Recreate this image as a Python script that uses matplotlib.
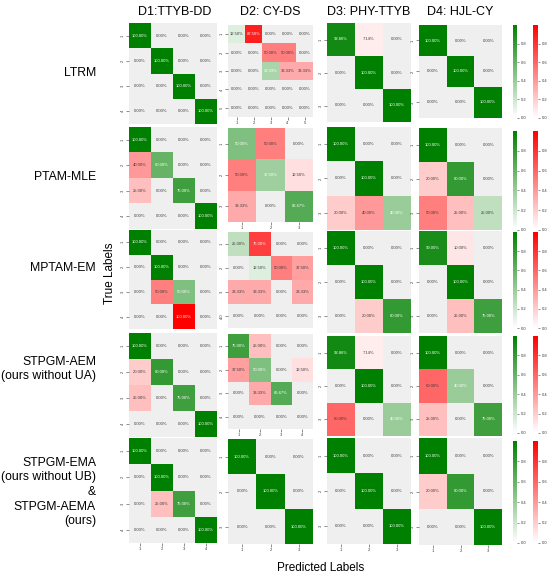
import numpy as np
import matplotlib
matplotlib.use("Agg")
import matplotlib.pyplot as plt
from matplotlib.colors import LinearSegmentedColormap, Normalize
from matplotlib.cm import ScalarMappable

plt.rcParams['font.family'] = ['Liberation Sans', 'DejaVu Sans']

DATASETS = ["D1:TTYB-DD", "D2: CY-DS", "D3: PHY-TTYB", "D4: HJL-CY"]
MODELS = [
    "LTRM",
    "PTAM-MLE",
    "MPTAM-EM",
    "STPGM-AEM\n(ours without UA)",
    "STPGM-EMA\n(ours without UB)\n&\nSTPGM-AEMA\n(ours)",
]

# confusion matrices in percent (rows = true label, cols = predicted label)
ltrm_d1 = [[100, 0, 0, 0], [0, 100, 0, 0], [0, 0, 100, 0], [0, 0, 0, 100]]
ltrm_d2 = [[12.50, 87.50, 0, 0, 0], [0, 0, 50, 50, 0], [0, 0, 33.33, 33.33, 33.33],
           [0, 0, 0, 0, 0], [0, 0, 0, 0, 0]]
ltrm_d3 = [[92.86, 7.14, 0], [0, 100, 0], [0, 0, 100]]
ltrm_d4 = [[100, 0, 0], [0, 100, 0], [0, 0, 100]]

ptam_d1 = [[100, 0, 0, 0], [40, 60, 0, 0], [25, 0, 75, 0], [0, 0, 0, 100]]
ptam_d2 = [[50, 50, 0], [50, 37.50, 12.50], [33.33, 0, 66.67]]
ptam_d3 = [[100, 0, 0], [0, 100, 0], [20, 40, 40]]
ptam_d4 = [[100, 0, 0], [20, 80, 0], [50, 25, 25]]

mptam_d1 = [[100, 0, 0, 0], [0, 100, 0, 0], [0, 50, 50, 0], [0, 0, 100, 0]]
mptam_d2 = [[25, 75, 0, 0], [0, 12.50, 50, 37.50], [33.33, 33.33, 0, 33.33], [0, 0, 0, 0]]
mptam_d3 = [[100, 0, 0], [0, 100, 0], [0, 20, 80]]
mptam_d4 = [[90, 10, 0], [0, 100, 0], [0, 25, 75]]

aem_d1 = [[100, 0, 0, 0], [20, 80, 0, 0], [25, 0, 75, 0], [0, 0, 0, 100]]
aem_d2 = [[75, 25, 0, 0], [37.50, 50, 0, 12.50], [0, 33.33, 66.67, 0], [0, 0, 0, 0]]
aem_d3 = [[92.86, 7.14, 0], [0, 100, 0], [60, 0, 40]]
aem_d4 = [[100, 0, 0], [60, 40, 0], [25, 0, 75]]

aema_d1 = [[100, 0, 0, 0], [0, 100, 0, 0], [0, 25, 75, 0], [0, 0, 0, 100]]
aema_d2 = [[100, 0, 0], [0, 100, 0], [0, 0, 100]]
aema_d3 = [[100, 0, 0], [0, 100, 0], [0, 0, 100]]
aema_d4 = [[100, 0, 0], [20, 80, 0], [0, 0, 100]]

GRID = [
    [ltrm_d1, ltrm_d2, ltrm_d3, ltrm_d4],
    [ptam_d1, ptam_d2, ptam_d3, ptam_d4],
    [mptam_d1, mptam_d2, mptam_d3, mptam_d4],
    [aem_d1, aem_d2, aem_d3, aem_d4],
    [aema_d1, aema_d2, aema_d3, aema_d4],
]
# odd y tick labels in MPTAM-EM / D2
MPTAM_D2_YLABELS = ["1", "2", "3", "4.0"]

# layout, in pixels of the 550x582 image
W, H = 550, 582
COL_X = [(129, 217), (228, 313), (327, 411), (419, 502)]
ROW_Y = [
    [(23, 124), (127, 229), (230, 329), (333, 437), (438, 543)],
    [(25, 117), (128, 222), (232, 328), (334, 429), (439, 544)],
    [(23, 122), (127, 230), (231, 333), (336, 436), (438, 544)],
    [(25, 118), (128, 230), (231, 333), (336, 436), (438, 545)],
]
CBAR_Y = [(25, 118), (131, 230), (232, 328), (336, 433), (441, 543)]
CBAR_X = [(513, 517), (533, 538)]
LABEL_Y = [73, 177, 268, 369, 492]
TITLE_X = [175, 270, 369, 460]

GREENS = LinearSegmentedColormap.from_list("g", ["#ffffff", "#008000"])
REDS = LinearSegmentedColormap.from_list("r", ["#ffffff", "#ff0000"])
ZERO = "#f0efef"
TXT = "#3a3a3a"


def box(x0, x1, y0, y1):
    return [x0 / W, 1 - y1 / H, (x1 - x0) / W, (y1 - y0) / H]


def draw_cm(ax, cm, show_x, ylabels):
    m = np.array(cm, dtype=float) / 100
    n = m.shape[0]
    diag = np.eye(n, dtype=bool)
    ax.set_facecolor(ZERO)
    ax.pcolormesh(np.ma.masked_where(~diag | (m == 0), m), cmap=GREENS,
                  vmin=0, vmax=1, linewidth=0, antialiased=False)
    ax.pcolormesh(np.ma.masked_where(diag | (m == 0), m), cmap=REDS,
                  vmin=0, vmax=1, linewidth=0, antialiased=False)
    for i in range(n):
        for j in range(n):
            v = m[i, j]
            c = TXT
            if i == j and v >= 0.3:
                c = "white"
            elif i != j and v >= 0.7:
                c = "#fff0f0"
            ax.text(j + 0.5, i + 0.5, f"{v * 100:.2f}%", ha="center", va="center",
                    fontsize=3, color=c)
    ax.set_xlim(0, n)
    ax.set_ylim(n, 0)
    for s in ax.spines.values():
        s.set_visible(False)
    ax.set_yticks(np.arange(n) + 0.5)
    ax.set_yticklabels(ylabels if ylabels else [str(k + 1) for k in range(n)],
                       rotation=90, va="center")
    if show_x:
        ax.set_xticks(np.arange(n) + 0.5)
        ax.set_xticklabels([str(k + 1) for k in range(n)])
    else:
        ax.set_xticks([])
    ax.tick_params(length=2, width=0.4, labelsize=3, pad=1, colors=TXT)


fig = plt.figure(figsize=(W / 100, H / 100), dpi=100)

for r, row in enumerate(GRID):
    for c, cm in enumerate(row):
        x0, x1 = COL_X[c]
        y0, y1 = ROW_Y[c][r]
        ax = fig.add_axes(box(x0, x1, y0, y1))
        show_x = (r == 4) or (c == 1 and r in (0, 1, 3))
        ylabels = MPTAM_D2_YLABELS if (r == 2 and c == 1) else None
        draw_cm(ax, cm, show_x, ylabels)
    for (cx0, cx1), cmap in zip(CBAR_X, (GREENS, REDS)):
        y0, y1 = CBAR_Y[r]
        cax = fig.add_axes(box(cx0, cx1, y0, y1))
        cb = fig.colorbar(ScalarMappable(norm=Normalize(0, 1), cmap=cmap), cax=cax,
                          ticks=[0, 0.2, 0.4, 0.6, 0.8])
        cb.outline.set_visible(False)
        cax.tick_params(labelsize=3, length=1.5, width=0.4, pad=1, colors=TXT)
    fig.text(96 / W, 1 - LABEL_Y[r] / H, MODELS[r], ha="right", va="center",
             fontsize=8.8, linespacing=1.3, multialignment="right")

for c, name in enumerate(DATASETS):
    fig.text(TITLE_X[c] / W, 1 - 12 / H, name, ha="center", va="center", fontsize=9)

fig.text(110 / W, 1 - 273 / H, "True Labels", rotation=90, ha="center", va="center",
         fontsize=8.5)
fig.text(321 / W, 1 - 568 / H, "Predicted Labels", ha="center", va="center",
         fontsize=8.5)

fig.savefig("out.png", dpi=100)
